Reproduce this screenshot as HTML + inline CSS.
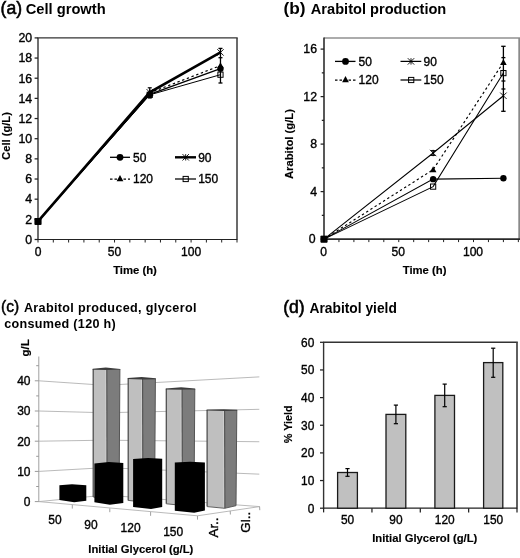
<!DOCTYPE html>
<html><head><meta charset="utf-8"><title>Figure</title>
<style>
html,body{margin:0;padding:0;background:#fff;}
body{width:520px;height:558px;overflow:hidden;font-family:"Liberation Sans",Arial,sans-serif;}
svg{display:block;}
svg text{font-family:"Liberation Sans",Arial,sans-serif;}
</style></head><body>
<svg width="520" height="558" viewBox="0 0 520 558">
<rect x="0" y="0" width="520" height="558" fill="#fff"/>
<line x1="37.50" y1="37.90" x2="237.70" y2="37.90" stroke="#333" stroke-width="1.3" />
<line x1="237.00" y1="37.90" x2="237.00" y2="240.00" stroke="#3a3a3a" stroke-width="1.5" />
<line x1="38.00" y1="37.90" x2="38.00" y2="240.00" stroke="#333" stroke-width="1.4" />
<line x1="38.00" y1="239.50" x2="237.00" y2="239.50" stroke="#222" stroke-width="1.0" />
<line x1="34.60" y1="239.50" x2="38.00" y2="239.50" stroke="#222" stroke-width="1.25" />
<text x="32.1" y="243.8" font-size="12.3" text-anchor="end" stroke="#000" stroke-width="0.35" fill="#000" >0</text>
<line x1="34.60" y1="219.34" x2="38.00" y2="219.34" stroke="#222" stroke-width="1.25" />
<text x="32.1" y="223.64000000000001" font-size="12.3" text-anchor="end" stroke="#000" stroke-width="0.35" fill="#000" >2</text>
<line x1="34.60" y1="199.18" x2="38.00" y2="199.18" stroke="#222" stroke-width="1.25" />
<text x="32.1" y="203.48000000000002" font-size="12.3" text-anchor="end" stroke="#000" stroke-width="0.35" fill="#000" >4</text>
<line x1="34.60" y1="179.02" x2="38.00" y2="179.02" stroke="#222" stroke-width="1.25" />
<text x="32.1" y="183.32" font-size="12.3" text-anchor="end" stroke="#000" stroke-width="0.35" fill="#000" >6</text>
<line x1="34.60" y1="158.86" x2="38.00" y2="158.86" stroke="#222" stroke-width="1.25" />
<text x="32.1" y="163.16000000000003" font-size="12.3" text-anchor="end" stroke="#000" stroke-width="0.35" fill="#000" >8</text>
<line x1="34.60" y1="138.70" x2="38.00" y2="138.70" stroke="#222" stroke-width="1.25" />
<text x="32.1" y="143.0" font-size="12.3" text-anchor="end" stroke="#000" stroke-width="0.35" fill="#000" >10</text>
<line x1="34.60" y1="118.54" x2="38.00" y2="118.54" stroke="#222" stroke-width="1.25" />
<text x="32.1" y="122.83999999999999" font-size="12.3" text-anchor="end" stroke="#000" stroke-width="0.35" fill="#000" >12</text>
<line x1="34.60" y1="98.38" x2="38.00" y2="98.38" stroke="#222" stroke-width="1.25" />
<text x="32.1" y="102.67999999999999" font-size="12.3" text-anchor="end" stroke="#000" stroke-width="0.35" fill="#000" >14</text>
<line x1="34.60" y1="78.22" x2="38.00" y2="78.22" stroke="#222" stroke-width="1.25" />
<text x="32.1" y="82.52" font-size="12.3" text-anchor="end" stroke="#000" stroke-width="0.35" fill="#000" >16</text>
<line x1="34.60" y1="58.06" x2="38.00" y2="58.06" stroke="#222" stroke-width="1.25" />
<text x="32.1" y="62.36" font-size="12.3" text-anchor="end" stroke="#000" stroke-width="0.35" fill="#000" >18</text>
<line x1="34.60" y1="37.90" x2="38.00" y2="37.90" stroke="#222" stroke-width="1.25" />
<text x="32.1" y="42.2" font-size="12.3" text-anchor="end" stroke="#000" stroke-width="0.35" fill="#000" >20</text>
<line x1="38.00" y1="239.50" x2="38.00" y2="242.50" stroke="#222" stroke-width="1" />
<line x1="53.31" y1="239.50" x2="53.31" y2="242.50" stroke="#222" stroke-width="1" />
<line x1="68.62" y1="239.50" x2="68.62" y2="242.50" stroke="#222" stroke-width="1" />
<line x1="83.92" y1="239.50" x2="83.92" y2="242.50" stroke="#222" stroke-width="1" />
<line x1="99.23" y1="239.50" x2="99.23" y2="242.50" stroke="#222" stroke-width="1" />
<line x1="114.54" y1="239.50" x2="114.54" y2="242.50" stroke="#222" stroke-width="1" />
<line x1="129.85" y1="239.50" x2="129.85" y2="242.50" stroke="#222" stroke-width="1" />
<line x1="145.15" y1="239.50" x2="145.15" y2="242.50" stroke="#222" stroke-width="1" />
<line x1="160.46" y1="239.50" x2="160.46" y2="242.50" stroke="#222" stroke-width="1" />
<line x1="175.77" y1="239.50" x2="175.77" y2="242.50" stroke="#222" stroke-width="1" />
<line x1="191.08" y1="239.50" x2="191.08" y2="242.50" stroke="#222" stroke-width="1" />
<line x1="206.38" y1="239.50" x2="206.38" y2="242.50" stroke="#222" stroke-width="1" />
<line x1="221.69" y1="239.50" x2="221.69" y2="242.50" stroke="#222" stroke-width="1" />
<line x1="237.00" y1="239.50" x2="237.00" y2="242.50" stroke="#222" stroke-width="1" />
<text x="38.0" y="255.7" font-size="12.1" text-anchor="middle" stroke="#000" stroke-width="0.35" fill="#000" >0</text>
<text x="114.53846153846153" y="255.7" font-size="12.1" text-anchor="middle" stroke="#000" stroke-width="0.35" fill="#000" >50</text>
<text x="191.07692307692307" y="255.7" font-size="12.1" text-anchor="middle" stroke="#000" stroke-width="0.35" fill="#000" >100</text>
<text x="135" y="274.3" font-size="11.3" text-anchor="middle" font-weight="bold" stroke="#000" stroke-width="0.15" fill="#000" >Time (h)</text>
<text x="9.7" y="136" font-size="11.2" text-anchor="middle" font-weight="bold" stroke="#000" stroke-width="0.15" transform="rotate(-90 9.7 136)" fill="#000" >Cell (g/L)</text>
<polyline points="38.00,221.36 149.75,94.85 220.47,74.69" fill="none" stroke="#000" stroke-width="1" />
<polyline points="38.00,221.36 149.75,92.84 220.47,65.62" fill="none" stroke="#000" stroke-width="1.2" stroke-dasharray="2.4 2.6"/>
<polyline points="38.00,221.36 149.75,94.35 220.47,68.64" fill="none" stroke="#000" stroke-width="1.3" />
<polyline points="38.00,221.36 149.75,92.33 220.47,52.42" fill="none" stroke="#000" stroke-width="2.6" />
<line x1="220.47" y1="48.40" x2="220.47" y2="83.00" stroke="#000" stroke-width="1.3" />
<line x1="218.47" y1="48.40" x2="222.47" y2="48.40" stroke="#000" stroke-width="1.3" />
<line x1="218.47" y1="83.00" x2="222.47" y2="83.00" stroke="#000" stroke-width="1.3" />
<line x1="218.47" y1="57.70" x2="222.47" y2="57.70" stroke="#000" stroke-width="1.3" />
<line x1="149.75" y1="87.80" x2="149.75" y2="98.00" stroke="#000" stroke-width="1.2" />
<line x1="147.75" y1="87.80" x2="151.75" y2="87.80" stroke="#000" stroke-width="1.2" />
<line x1="147.75" y1="98.00" x2="151.75" y2="98.00" stroke="#000" stroke-width="1.2" />
<rect x="34.80" y="218.16" width="6.4" height="6.4" fill="#000"/>
<rect x="147.15" y="92.25" width="5.2" height="5.2" fill="none" stroke="#000" stroke-width="1"/>
<rect x="217.87" y="72.09" width="5.2" height="5.2" fill="none" stroke="#000" stroke-width="1"/>
<rect x="34.80" y="218.16" width="6.4" height="6.4" fill="#000"/>
<polygon points="149.75,89.54 153.05,95.48 146.45,95.48" fill="#000" stroke="none" stroke-width="1" />
<polygon points="220.47,62.32 223.77,68.26 217.17,68.26" fill="#000" stroke="none" stroke-width="1" />
<rect x="34.80" y="218.16" width="6.4" height="6.4" fill="#000"/>
<circle cx="149.75" cy="94.35" r="3.2" fill="#000"/>
<circle cx="220.47" cy="68.64" r="3.2" fill="#000"/>
<rect x="34.80" y="218.16" width="6.4" height="6.4" fill="#000"/>
<line x1="146.55" y1="89.13" x2="152.95" y2="95.53" stroke="#000" stroke-width="0.9" />
<line x1="146.55" y1="95.53" x2="152.95" y2="89.13" stroke="#000" stroke-width="0.9" />
<line x1="149.75" y1="89.13" x2="149.75" y2="95.53" stroke="#000" stroke-width="0.9" />
<line x1="217.27" y1="49.22" x2="223.67" y2="55.62" stroke="#000" stroke-width="0.9" />
<line x1="217.27" y1="55.62" x2="223.67" y2="49.22" stroke="#000" stroke-width="0.9" />
<line x1="220.47" y1="49.22" x2="220.47" y2="55.62" stroke="#000" stroke-width="0.9" />
<line x1="110.00" y1="157.30" x2="130.00" y2="157.30" stroke="#000" stroke-width="1.3" />
<circle cx="120.00" cy="157.30" r="3.4" fill="#000"/>
<text x="133.0" y="161.70000000000002" font-size="12" text-anchor="start" stroke="#000" stroke-width="0.35" fill="#000" >50</text>
<line x1="110.00" y1="179.00" x2="130.00" y2="179.00" stroke="#000" stroke-width="1.25" stroke-dasharray="2.5 2"/>
<polygon points="120.00,175.10 123.40,181.22 116.60,181.22" fill="#000" stroke="none" stroke-width="1" />
<text x="133.0" y="183.4" font-size="12" text-anchor="start" stroke="#000" stroke-width="0.35" fill="#000" >120</text>
<line x1="175.00" y1="157.30" x2="196.00" y2="157.30" stroke="#000" stroke-width="2.4" />
<line x1="182.50" y1="154.10" x2="188.90" y2="160.50" stroke="#000" stroke-width="0.9" />
<line x1="182.50" y1="160.50" x2="188.90" y2="154.10" stroke="#000" stroke-width="0.9" />
<line x1="185.70" y1="154.10" x2="185.70" y2="160.50" stroke="#000" stroke-width="0.9" />
<text x="198.2" y="161.70000000000002" font-size="12" text-anchor="start" stroke="#000" stroke-width="0.35" fill="#000" >90</text>
<line x1="175.00" y1="179.00" x2="196.00" y2="179.00" stroke="#000" stroke-width="1.25" />
<rect x="183.10" y="176.40" width="5.2" height="5.2" fill="none" stroke="#000" stroke-width="1"/>
<text x="198.2" y="183.4" font-size="12" text-anchor="start" stroke="#000" stroke-width="0.35" fill="#000" >150</text>
<text x="0.6" y="13.8" font-size="17.6" fill="#000" stroke="#000" stroke-width="0.55">(a)</text>
<text x="25.7" y="13.8" font-size="14.7" font-weight="bold" fill="#000">Cell growth</text>
<line x1="324.00" y1="38.00" x2="520.00" y2="38.00" stroke="#5a5a5a" stroke-width="1.2" />
<line x1="519.20" y1="38.00" x2="519.20" y2="239.10" stroke="#8a8a8a" stroke-width="1.8" />
<line x1="324.00" y1="37.40" x2="324.00" y2="239.60" stroke="#3a3a3a" stroke-width="1.7" />
<line x1="324.00" y1="239.10" x2="520.00" y2="239.10" stroke="#2a2a2a" stroke-width="1.7" />
<line x1="320.60" y1="239.10" x2="324.00" y2="239.10" stroke="#222" stroke-width="1.25" />
<text x="315.7" y="243.4" font-size="12.3" text-anchor="end" stroke="#000" stroke-width="0.35" fill="#000" >0</text>
<line x1="321.80" y1="215.35" x2="324.00" y2="215.35" stroke="#222" stroke-width="1.25" />
<line x1="320.60" y1="191.60" x2="324.00" y2="191.60" stroke="#222" stroke-width="1.25" />
<text x="317.0" y="195.9" font-size="12.3" text-anchor="end" stroke="#000" stroke-width="0.35" fill="#000" >4</text>
<line x1="321.80" y1="167.85" x2="324.00" y2="167.85" stroke="#222" stroke-width="1.25" />
<line x1="320.60" y1="144.10" x2="324.00" y2="144.10" stroke="#222" stroke-width="1.25" />
<text x="317.0" y="148.4" font-size="12.3" text-anchor="end" stroke="#000" stroke-width="0.35" fill="#000" >8</text>
<line x1="321.80" y1="120.35" x2="324.00" y2="120.35" stroke="#222" stroke-width="1.25" />
<line x1="320.60" y1="96.60" x2="324.00" y2="96.60" stroke="#222" stroke-width="1.25" />
<text x="317.0" y="100.89999999999999" font-size="12.3" text-anchor="end" stroke="#000" stroke-width="0.35" fill="#000" >12</text>
<line x1="321.80" y1="72.85" x2="324.00" y2="72.85" stroke="#222" stroke-width="1.25" />
<line x1="320.60" y1="49.10" x2="324.00" y2="49.10" stroke="#222" stroke-width="1.25" />
<text x="317.0" y="53.39999999999999" font-size="12.3" text-anchor="end" stroke="#000" stroke-width="0.35" fill="#000" >16</text>
<line x1="324.00" y1="239.10" x2="324.00" y2="242.10" stroke="#222" stroke-width="1" />
<line x1="338.95" y1="239.10" x2="338.95" y2="242.10" stroke="#222" stroke-width="1" />
<line x1="353.90" y1="239.10" x2="353.90" y2="242.10" stroke="#222" stroke-width="1" />
<line x1="368.85" y1="239.10" x2="368.85" y2="242.10" stroke="#222" stroke-width="1" />
<line x1="383.80" y1="239.10" x2="383.80" y2="242.10" stroke="#222" stroke-width="1" />
<line x1="398.75" y1="239.10" x2="398.75" y2="242.10" stroke="#222" stroke-width="1" />
<line x1="413.70" y1="239.10" x2="413.70" y2="242.10" stroke="#222" stroke-width="1" />
<line x1="428.65" y1="239.10" x2="428.65" y2="242.10" stroke="#222" stroke-width="1" />
<line x1="443.60" y1="239.10" x2="443.60" y2="242.10" stroke="#222" stroke-width="1" />
<line x1="458.55" y1="239.10" x2="458.55" y2="242.10" stroke="#222" stroke-width="1" />
<line x1="473.50" y1="239.10" x2="473.50" y2="242.10" stroke="#222" stroke-width="1" />
<line x1="488.45" y1="239.10" x2="488.45" y2="242.10" stroke="#222" stroke-width="1" />
<line x1="503.40" y1="239.10" x2="503.40" y2="242.10" stroke="#222" stroke-width="1" />
<line x1="518.35" y1="239.10" x2="518.35" y2="242.10" stroke="#222" stroke-width="1" />
<text x="323.5" y="256.0" font-size="12.1" text-anchor="middle" stroke="#000" stroke-width="0.35" fill="#000" >0</text>
<text x="398.25" y="256.0" font-size="12.1" text-anchor="middle" stroke="#000" stroke-width="0.35" fill="#000" >50</text>
<text x="473.0" y="256.0" font-size="12.1" text-anchor="middle" stroke="#000" stroke-width="0.35" fill="#000" >100</text>
<text x="424.6" y="274.1" font-size="11.3" text-anchor="middle" font-weight="bold" stroke="#000" stroke-width="0.15" fill="#000" >Time (h)</text>
<text x="293.2" y="144.1" font-size="11.25" text-anchor="middle" font-weight="bold" stroke="#000" stroke-width="0.15" transform="rotate(-90 293.2 144.1)" fill="#000" >Arabitol (g/L)</text>
<polyline points="324.00,239.10 433.13,186.61 503.40,73.09" fill="none" stroke="#000" stroke-width="1.05" />
<polyline points="324.00,239.10 433.13,169.63 503.40,62.40" fill="none" stroke="#000" stroke-width="1.15" stroke-dasharray="2.4 2.6"/>
<polyline points="324.00,239.10 433.13,179.13 503.40,178.30" fill="none" stroke="#000" stroke-width="1.05" />
<polyline points="324.00,239.10 433.13,153.01 503.40,95.77" fill="none" stroke="#000" stroke-width="1.05" />
<line x1="503.40" y1="46.30" x2="503.40" y2="111.30" stroke="#000" stroke-width="1.3" />
<line x1="501.20" y1="46.30" x2="505.60" y2="46.30" stroke="#000" stroke-width="1.3" />
<line x1="501.20" y1="111.30" x2="505.60" y2="111.30" stroke="#000" stroke-width="1.3" />
<line x1="501.40" y1="57.60" x2="505.40" y2="57.60" stroke="#000" stroke-width="1.3" />
<line x1="501.40" y1="81.00" x2="505.40" y2="81.00" stroke="#000" stroke-width="1.3" />
<line x1="501.40" y1="89.00" x2="505.40" y2="89.00" stroke="#000" stroke-width="1.3" />
<line x1="433.13" y1="150.63" x2="433.13" y2="155.38" stroke="#000" stroke-width="1" />
<line x1="430.94" y1="150.63" x2="435.33" y2="150.63" stroke="#000" stroke-width="1" />
<line x1="430.94" y1="155.38" x2="435.33" y2="155.38" stroke="#000" stroke-width="1" />
<rect x="320.80" y="235.90" width="6.4" height="6.4" fill="#000"/>
<rect x="430.53" y="184.01" width="5.2" height="5.2" fill="none" stroke="#000" stroke-width="1"/>
<rect x="500.80" y="70.49" width="5.2" height="5.2" fill="none" stroke="#000" stroke-width="1"/>
<rect x="320.80" y="235.90" width="6.4" height="6.4" fill="#000"/>
<polygon points="433.13,166.33 436.44,172.27 429.83,172.27" fill="#000" stroke="none" stroke-width="1" />
<polygon points="503.40,59.10 506.70,65.04 500.10,65.04" fill="#000" stroke="none" stroke-width="1" />
<rect x="320.80" y="235.90" width="6.4" height="6.4" fill="#000"/>
<circle cx="433.13" cy="179.13" r="3.2" fill="#000"/>
<circle cx="503.40" cy="178.30" r="3.2" fill="#000"/>
<rect x="320.80" y="235.90" width="6.4" height="6.4" fill="#000"/>
<line x1="429.94" y1="149.81" x2="436.33" y2="156.21" stroke="#000" stroke-width="0.9" />
<line x1="429.94" y1="156.21" x2="436.33" y2="149.81" stroke="#000" stroke-width="0.9" />
<line x1="433.13" y1="149.81" x2="433.13" y2="156.21" stroke="#000" stroke-width="0.9" />
<line x1="500.20" y1="92.57" x2="506.60" y2="98.97" stroke="#000" stroke-width="0.9" />
<line x1="500.20" y1="98.97" x2="506.60" y2="92.57" stroke="#000" stroke-width="0.9" />
<line x1="503.40" y1="92.57" x2="503.40" y2="98.97" stroke="#000" stroke-width="0.9" />
<line x1="335.00" y1="61.40" x2="355.50" y2="61.40" stroke="#000" stroke-width="1.3" />
<circle cx="345.50" cy="61.40" r="3.4" fill="#000"/>
<text x="358.6" y="65.8" font-size="12" text-anchor="start" stroke="#000" stroke-width="0.35" fill="#000" >50</text>
<line x1="335.00" y1="80.00" x2="355.50" y2="80.00" stroke="#000" stroke-width="1.25" stroke-dasharray="2.5 2"/>
<polygon points="345.50,76.10 348.90,82.22 342.10,82.22" fill="#000" stroke="none" stroke-width="1" />
<text x="358.6" y="84.4" font-size="12" text-anchor="start" stroke="#000" stroke-width="0.35" fill="#000" >120</text>
<line x1="400.50" y1="61.40" x2="421.30" y2="61.40" stroke="#000" stroke-width="1.25" />
<line x1="407.80" y1="58.20" x2="414.20" y2="64.60" stroke="#000" stroke-width="0.9" />
<line x1="407.80" y1="64.60" x2="414.20" y2="58.20" stroke="#000" stroke-width="0.9" />
<line x1="411.00" y1="58.20" x2="411.00" y2="64.60" stroke="#000" stroke-width="0.9" />
<text x="423.6" y="65.8" font-size="12" text-anchor="start" stroke="#000" stroke-width="0.35" fill="#000" >90</text>
<line x1="400.50" y1="80.00" x2="421.30" y2="80.00" stroke="#000" stroke-width="1.25" />
<rect x="408.60" y="77.40" width="5.2" height="5.2" fill="none" stroke="#000" stroke-width="1"/>
<text x="423.6" y="84.4" font-size="12" text-anchor="start" stroke="#000" stroke-width="0.35" fill="#000" >150</text>
<text x="283.5" y="13.7" font-size="17.3" font-weight="bold" fill="#000">(b)</text>
<text x="310.8" y="13.7" font-size="14.6" font-weight="bold" fill="#000" textLength="135.5" lengthAdjust="spacingAndGlyphs">Arabitol production</text>
<line x1="38.80" y1="356.50" x2="38.80" y2="501.80" stroke="#a0a0a0" stroke-width="1" />
<polyline points="38.80,471.40 105.00,467.65 259.30,474.17" fill="none" stroke="#b2b2b2" stroke-width="0.9" />
<polyline points="38.80,441.20 105.00,440.20 259.30,441.74" fill="none" stroke="#b2b2b2" stroke-width="0.9" />
<polyline points="38.80,411.00 105.00,412.75 259.30,409.31" fill="none" stroke="#b2b2b2" stroke-width="0.9" />
<polyline points="38.80,380.80 105.00,385.30 259.30,376.88" fill="none" stroke="#b2b2b2" stroke-width="0.9" />
<polyline points="38.80,501.60 105.00,495.10 259.60,506.60 197.50,515.80 38.80,501.60" fill="none" stroke="#b2b2b2" stroke-width="0.9" />
<line x1="34.80" y1="501.60" x2="38.80" y2="501.60" stroke="#999" stroke-width="1" />
<line x1="36.20" y1="486.50" x2="38.80" y2="486.50" stroke="#999" stroke-width="1" />
<line x1="34.80" y1="471.40" x2="38.80" y2="471.40" stroke="#999" stroke-width="1" />
<line x1="36.20" y1="456.30" x2="38.80" y2="456.30" stroke="#999" stroke-width="1" />
<line x1="34.80" y1="441.20" x2="38.80" y2="441.20" stroke="#999" stroke-width="1" />
<line x1="36.20" y1="426.10" x2="38.80" y2="426.10" stroke="#999" stroke-width="1" />
<line x1="34.80" y1="411.00" x2="38.80" y2="411.00" stroke="#999" stroke-width="1" />
<line x1="36.20" y1="395.90" x2="38.80" y2="395.90" stroke="#999" stroke-width="1" />
<line x1="34.80" y1="380.80" x2="38.80" y2="380.80" stroke="#999" stroke-width="1" />
<line x1="36.20" y1="365.70" x2="38.80" y2="365.70" stroke="#999" stroke-width="1" />
<text x="30.5" y="506.0" font-size="12" text-anchor="end" stroke="#000" stroke-width="0.35" fill="#000" >0</text>
<text x="30.5" y="475.8" font-size="12" text-anchor="end" stroke="#000" stroke-width="0.35" fill="#000" >10</text>
<text x="30.5" y="445.6" font-size="12" text-anchor="end" stroke="#000" stroke-width="0.35" fill="#000" >20</text>
<text x="30.5" y="415.4" font-size="12" text-anchor="end" stroke="#000" stroke-width="0.35" fill="#000" >30</text>
<text x="30.5" y="385.2" font-size="12" text-anchor="end" stroke="#000" stroke-width="0.35" fill="#000" >40</text>
<line x1="72.30" y1="504.80" x2="72.30" y2="508.60" stroke="#a0a0a0" stroke-width="1" />
<line x1="109.80" y1="508.40" x2="109.80" y2="512.20" stroke="#a0a0a0" stroke-width="1" />
<line x1="150.60" y1="512.00" x2="150.60" y2="515.80" stroke="#a0a0a0" stroke-width="1" />
<line x1="197.50" y1="515.80" x2="197.50" y2="519.60" stroke="#a0a0a0" stroke-width="1" />
<line x1="230.20" y1="510.90" x2="230.40" y2="514.50" stroke="#a0a0a0" stroke-width="1" />
<line x1="259.60" y1="506.60" x2="259.80" y2="510.20" stroke="#a0a0a0" stroke-width="1" />
<polygon points="93.20,369.00 106.60,369.60 106.90,498.50 93.20,497.00" fill="#bfbfbf" stroke="none" stroke-width="1" />
<polygon points="106.60,369.60 119.90,369.30 119.10,497.00 106.90,498.50" fill="#7c7c7c" stroke="none" stroke-width="1" />
<line x1="93.20" y1="369.00" x2="93.20" y2="497.00" stroke="#4a4a4a" stroke-width="1.25" />
<line x1="105.70" y1="370.20" x2="106.00" y2="498.50" stroke="#d4d4d4" stroke-width="0.7" />
<line x1="106.80" y1="369.60" x2="107.10" y2="498.50" stroke="#505050" stroke-width="1.1" />
<line x1="119.90" y1="369.30" x2="119.10" y2="497.00" stroke="#555" stroke-width="1.0" />
<polyline points="93.20,497.00 106.90,498.50 119.10,497.00" fill="none" stroke="#555" stroke-width="0.9" />
<polygon points="92.70,368.70 105.80,367.60 120.30,368.90 120.30,369.80 106.60,370.10 92.70,369.70" fill="#3c3c3c" stroke="none" stroke-width="1" />
<polygon points="128.20,378.40 142.40,379.00 142.70,502.00 128.20,500.40" fill="#bfbfbf" stroke="none" stroke-width="1" />
<polygon points="142.40,379.00 155.40,378.70 154.60,500.00 142.70,502.00" fill="#7c7c7c" stroke="none" stroke-width="1" />
<line x1="128.20" y1="378.40" x2="128.20" y2="500.40" stroke="#4a4a4a" stroke-width="1.25" />
<line x1="141.50" y1="379.60" x2="141.80" y2="502.00" stroke="#d4d4d4" stroke-width="0.7" />
<line x1="142.60" y1="379.00" x2="142.90" y2="502.00" stroke="#505050" stroke-width="1.1" />
<line x1="155.40" y1="378.70" x2="154.60" y2="500.00" stroke="#555" stroke-width="1.0" />
<polyline points="128.20,500.40 142.70,502.00 154.60,500.00" fill="none" stroke="#555" stroke-width="0.9" />
<polygon points="127.70,378.10 141.60,377.00 155.80,378.30 155.80,379.20 142.40,379.50 127.70,379.10" fill="#3c3c3c" stroke="none" stroke-width="1" />
<polygon points="166.30,388.70 181.90,389.30 182.20,505.40 166.30,503.80" fill="#bfbfbf" stroke="none" stroke-width="1" />
<polygon points="181.90,389.30 194.80,389.00 194.00,503.00 182.20,505.40" fill="#7c7c7c" stroke="none" stroke-width="1" />
<line x1="166.30" y1="388.70" x2="166.30" y2="503.80" stroke="#4a4a4a" stroke-width="1.25" />
<line x1="181.00" y1="389.90" x2="181.30" y2="505.40" stroke="#d4d4d4" stroke-width="0.7" />
<line x1="182.10" y1="389.30" x2="182.40" y2="505.40" stroke="#505050" stroke-width="1.1" />
<line x1="194.80" y1="389.00" x2="194.00" y2="503.00" stroke="#555" stroke-width="1.0" />
<polyline points="166.30,503.80 182.20,505.40 194.00,503.00" fill="none" stroke="#555" stroke-width="0.9" />
<polygon points="165.80,388.40 181.10,387.30 195.20,388.60 195.20,389.50 181.90,389.80 165.80,389.40" fill="#3c3c3c" stroke="none" stroke-width="1" />
<polygon points="207.10,409.90 224.40,410.50 224.70,508.30 207.10,506.60" fill="#bfbfbf" stroke="none" stroke-width="1" />
<polygon points="224.40,410.50 236.80,410.20 236.00,505.70 224.70,508.30" fill="#7c7c7c" stroke="none" stroke-width="1" />
<line x1="207.10" y1="409.90" x2="207.10" y2="506.60" stroke="#4a4a4a" stroke-width="1.25" />
<line x1="223.50" y1="411.10" x2="223.80" y2="508.30" stroke="#d4d4d4" stroke-width="0.7" />
<line x1="224.60" y1="410.50" x2="224.90" y2="508.30" stroke="#505050" stroke-width="1.1" />
<line x1="236.80" y1="410.20" x2="236.00" y2="505.70" stroke="#555" stroke-width="1.0" />
<polyline points="207.10,506.60 224.70,508.30 236.00,505.70" fill="none" stroke="#555" stroke-width="0.9" />
<polygon points="206.60,409.60 223.60,409.20 237.20,409.80 237.20,410.70 224.40,411.00 206.60,410.60" fill="#3c3c3c" stroke="none" stroke-width="1" />
<polygon points="59.40,485.20 72.00,484.20 86.30,485.20 86.30,500.70 74.20,502.20 59.40,499.90" fill="#000" stroke="none" stroke-width="1" />
<polygon points="94.40,463.40 108.80,462.00 123.30,463.00 123.30,502.90 109.80,504.80 94.40,502.30" fill="#000" stroke="none" stroke-width="1" />
<polygon points="133.10,458.90 148.00,457.90 162.20,458.70 162.20,506.90 151.00,509.00 133.10,506.90" fill="#000" stroke="none" stroke-width="1" />
<polygon points="174.80,462.50 190.00,461.70 204.90,462.40 204.90,510.40 194.20,512.80 174.80,510.70" fill="#000" stroke="none" stroke-width="1" />
<text x="54.9" y="524.3" font-size="12" text-anchor="middle" stroke="#000" stroke-width="0.35" fill="#000" >50</text>
<text x="90.9" y="528.5" font-size="12" text-anchor="middle" stroke="#000" stroke-width="0.35" fill="#000" >90</text>
<text x="130.6" y="532" font-size="12" text-anchor="middle" stroke="#000" stroke-width="0.35" fill="#000" >120</text>
<text x="173.2" y="536.2" font-size="12" text-anchor="middle" stroke="#000" stroke-width="0.35" fill="#000" >150</text>
<text x="218.1" y="527.5" font-size="13.4" text-anchor="middle" stroke="#000" stroke-width="0.35" transform="rotate(-90 218.1 527.5)" fill="#000" >Ar..</text>
<text x="249.6" y="522.2" font-size="13.4" text-anchor="middle" stroke="#000" stroke-width="0.35" transform="rotate(-90 249.6 522.2)" fill="#000" >Gl..</text>
<text x="140.8" y="553.4" font-size="11.25" text-anchor="middle" font-weight="bold" stroke="#000" stroke-width="0.15" fill="#000" >Initial Glycerol (g/L)</text>
<text x="29.4" y="347.9" font-size="11.5" text-anchor="middle" font-weight="bold" stroke="#000" stroke-width="0.15" transform="rotate(-90 29.4 347.9)" fill="#000" >g/L</text>
<text x="1.0" y="311.8" font-size="15.6" fill="#000" stroke="#000" stroke-width="0.45">(c)</text>
<text x="23.9" y="312" font-size="12.6" font-weight="bold" fill="#000" letter-spacing="0.34">Arabitol produced, glycerol</text>
<text x="4.2" y="327.5" font-size="12.6" font-weight="bold" fill="#000" letter-spacing="0.3">consumed (120 h)</text>
<line x1="323.10" y1="342.30" x2="517.80" y2="342.30" stroke="#333" stroke-width="1.4" />
<line x1="517.00" y1="342.30" x2="517.00" y2="508.70" stroke="#444" stroke-width="1.7" />
<line x1="323.60" y1="342.30" x2="323.60" y2="508.70" stroke="#333" stroke-width="1.4" />
<line x1="323.60" y1="508.20" x2="517.00" y2="508.20" stroke="#222" stroke-width="1.3" />
<line x1="320.00" y1="508.20" x2="323.60" y2="508.20" stroke="#222" stroke-width="1.25" />
<text x="314.3" y="512.5" font-size="11.9" text-anchor="end" stroke="#000" stroke-width="0.35" fill="#000" >0</text>
<line x1="320.00" y1="480.55" x2="323.60" y2="480.55" stroke="#222" stroke-width="1.25" />
<text x="314.3" y="484.85" font-size="11.9" text-anchor="end" stroke="#000" stroke-width="0.35" fill="#000" >10</text>
<line x1="320.00" y1="452.90" x2="323.60" y2="452.90" stroke="#222" stroke-width="1.25" />
<text x="314.3" y="457.2" font-size="11.9" text-anchor="end" stroke="#000" stroke-width="0.35" fill="#000" >20</text>
<line x1="320.00" y1="425.25" x2="323.60" y2="425.25" stroke="#222" stroke-width="1.25" />
<text x="314.3" y="429.55" font-size="11.9" text-anchor="end" stroke="#000" stroke-width="0.35" fill="#000" >30</text>
<line x1="320.00" y1="397.60" x2="323.60" y2="397.60" stroke="#222" stroke-width="1.25" />
<text x="314.3" y="401.90000000000003" font-size="11.9" text-anchor="end" stroke="#000" stroke-width="0.35" fill="#000" >40</text>
<line x1="320.00" y1="369.95" x2="323.60" y2="369.95" stroke="#222" stroke-width="1.25" />
<text x="314.3" y="374.25000000000006" font-size="11.9" text-anchor="end" stroke="#000" stroke-width="0.35" fill="#000" >50</text>
<line x1="320.00" y1="342.30" x2="323.60" y2="342.30" stroke="#222" stroke-width="1.25" />
<text x="314.3" y="346.6" font-size="11.9" text-anchor="end" stroke="#000" stroke-width="0.35" fill="#000" >60</text>
<line x1="323.60" y1="508.20" x2="323.60" y2="512.40" stroke="#222" stroke-width="1.25" />
<line x1="371.95" y1="508.20" x2="371.95" y2="512.40" stroke="#222" stroke-width="1.25" />
<line x1="420.30" y1="508.20" x2="420.30" y2="512.40" stroke="#222" stroke-width="1.25" />
<line x1="468.65" y1="508.20" x2="468.65" y2="512.40" stroke="#222" stroke-width="1.25" />
<line x1="517.00" y1="508.20" x2="517.00" y2="512.40" stroke="#222" stroke-width="1.25" />
<rect x="337.6" y="472.5" width="19.80" height="35.70" fill="#c0c0c0" stroke="#1a1a1a" stroke-width="1.3"/>
<line x1="347.50" y1="468.60" x2="347.50" y2="476.30" stroke="#000" stroke-width="1.2" />
<line x1="345.40" y1="468.60" x2="349.60" y2="468.60" stroke="#000" stroke-width="1.2" />
<line x1="345.40" y1="476.30" x2="349.60" y2="476.30" stroke="#000" stroke-width="1.2" />
<text x="347.5" y="523.9" font-size="11.9" text-anchor="middle" stroke="#000" stroke-width="0.35" fill="#000" >50</text>
<rect x="386.0" y="414.4" width="19.80" height="93.80" fill="#c0c0c0" stroke="#1a1a1a" stroke-width="1.3"/>
<line x1="395.90" y1="405.10" x2="395.90" y2="423.70" stroke="#000" stroke-width="1.2" />
<line x1="393.80" y1="405.10" x2="398.00" y2="405.10" stroke="#000" stroke-width="1.2" />
<line x1="393.80" y1="423.70" x2="398.00" y2="423.70" stroke="#000" stroke-width="1.2" />
<text x="395.9" y="523.9" font-size="11.9" text-anchor="middle" stroke="#000" stroke-width="0.35" fill="#000" >90</text>
<rect x="434.9" y="395.4" width="19.60" height="112.80" fill="#c0c0c0" stroke="#1a1a1a" stroke-width="1.3"/>
<line x1="444.70" y1="384.10" x2="444.70" y2="406.70" stroke="#000" stroke-width="1.2" />
<line x1="442.60" y1="384.10" x2="446.80" y2="384.10" stroke="#000" stroke-width="1.2" />
<line x1="442.60" y1="406.70" x2="446.80" y2="406.70" stroke="#000" stroke-width="1.2" />
<text x="444.7" y="523.9" font-size="11.9" text-anchor="middle" stroke="#000" stroke-width="0.35" fill="#000" >120</text>
<rect x="483.6" y="362.6" width="19.20" height="145.60" fill="#c0c0c0" stroke="#1a1a1a" stroke-width="1.3"/>
<line x1="493.20" y1="348.20" x2="493.20" y2="377.30" stroke="#000" stroke-width="1.2" />
<line x1="491.10" y1="348.20" x2="495.30" y2="348.20" stroke="#000" stroke-width="1.2" />
<line x1="491.10" y1="377.30" x2="495.30" y2="377.30" stroke="#000" stroke-width="1.2" />
<text x="493.20000000000005" y="523.9" font-size="11.9" text-anchor="middle" stroke="#000" stroke-width="0.35" fill="#000" >150</text>
<text x="424.75" y="542" font-size="11.25" text-anchor="middle" font-weight="bold" stroke="#000" stroke-width="0.15" fill="#000" >Initial Glycerol (g/L)</text>
<text x="292.5" y="424.3" font-size="10.8" text-anchor="middle" font-weight="bold" stroke="#000" stroke-width="0.15" transform="rotate(-90 292.5 424.3)" fill="#000" >% Yield</text>
<text x="283.2" y="313.3" font-size="17.6" fill="#000" stroke="#000" stroke-width="0.6">(d)</text>
<text x="309.5" y="313.2" font-size="14.8" font-weight="bold" fill="#000" textLength="87.3" lengthAdjust="spacingAndGlyphs">Arabitol yield</text>
</svg>
</body></html>
